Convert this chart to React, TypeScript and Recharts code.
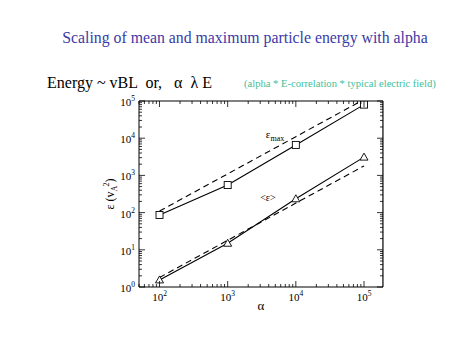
import { LineChart, Line, XAxis, YAxis, ReferenceDot, ReferenceLine } from "recharts"

const alpha = [1e2, 1e3, 1e4, 1e5]
const maxEnergy = [86, 550, 6600, 80000]
const maxFit = [110, 1100, 11000, 110000]
const meanEnergy = [1.55, 15, 235, 3100]
const meanFit = [1.8, 18, 180, 1800]

const xDecades = [10, 100, 1000, 10000, 100000]
const yDecades = [1, 10, 100, 1000, 10000]
const mantissas = [1, 2, 3, 4, 5, 6, 7, 8, 9]

const xDomain = [50, 190000]
const yDomain = [1, 100000]

const xTicks = xDecades
  .flatMap((d) => mantissas.map((m) => m * d))
  .filter((v) => v >= xDomain[0] && v <= xDomain[1])
const yTicks = [...yDecades.flatMap((d) => mantissas.map((m) => m * d)), 100000]

const data = alpha.map((a, i) => ({
  alpha: a,
  max: maxEnergy[i],
  maxFit: maxFit[i],
  mean: meanEnergy[i],
  meanFit: meanFit[i],
}))

const serif = "Liberation Serif, Times New Roman, serif"

const W = 474
const H = 355
const margin = { top: 100, right: 91, bottom: 38, left: 99 }

const exponent = (v: number) => Math.round(Math.log10(v))
const isMajor = (v: number) => Math.abs(Math.log10(v) - exponent(v)) < 1e-6

function BottomTick({ x, y, payload }: any) {
  const v = payload.value
  const major = isMajor(v)
  return (
    <g>
      <line x1={x} x2={x} y1={y} y2={y - (major ? 6 : 3)} stroke="#000" strokeWidth={0.8} />
      {major && (
        <text x={x} y={y + 14} textAnchor="middle" fontFamily={serif} fontSize={11} fill="#000">
          10
          <tspan dy={-5} fontSize={7.5}>
            {exponent(v)}
          </tspan>
        </text>
      )}
    </g>
  )
}

function TopTick({ x, y, payload }: any) {
  const major = isMajor(payload.value)
  return <line x1={x} x2={x} y1={y} y2={y + (major ? 6 : 3)} stroke="#000" strokeWidth={0.8} />
}

function LeftTick({ x, y, payload }: any) {
  const v = payload.value
  const major = isMajor(v)
  return (
    <g>
      <line x1={x} x2={x + (major ? 6 : 3)} y1={y} y2={y} stroke="#000" strokeWidth={0.8} />
      {major && (
        <text x={x - 4} y={y + 5} textAnchor="end" fontFamily={serif} fontSize={11} fill="#000">
          10
          <tspan dy={-5} fontSize={7.5}>
            {exponent(v)}
          </tspan>
        </text>
      )}
    </g>
  )
}

function Square({ cx, cy }: any) {
  return <rect x={cx - 3.5} y={cy - 3.5} width={7} height={7} fill="#fff" stroke="#000" strokeWidth={0.9} />
}

function Triangle({ cx, cy }: any) {
  return (
    <polygon
      points={`${cx},${cy - 4} ${cx - 4},${cy + 3} ${cx + 4},${cy + 3}`}
      fill="#fff"
      stroke="#000"
      strokeWidth={0.9}
    />
  )
}

export default function App() {
  return (
    <div style={{ position: "absolute", left: 0, top: 0, width: W, height: H, background: "#fff" }}>
      <div
        style={{
          position: "absolute",
          left: 0,
          width: 490,
          top: 30,
          textAlign: "center",
          fontFamily: serif,
          fontSize: 15.8,
          lineHeight: "16px",
          color: "#3a3aa6",
          whiteSpace: "nowrap",
        }}
      >
        Scaling of mean and maximum particle energy with alpha
      </div>
      <div
        style={{
          position: "absolute",
          left: 47,
          top: 74,
          fontFamily: serif,
          fontSize: 16,
          lineHeight: "17px",
          color: "#000",
          whiteSpace: "pre",
        }}
      >
        {"Energy ~ vBL  or,   \u03b1  \u03bb E"}
      </div>
      <div
        style={{
          position: "absolute",
          left: 244,
          top: 78,
          fontFamily: serif,
          fontSize: 10.6,
          lineHeight: "11px",
          color: "#3dbf9c",
          whiteSpace: "pre",
        }}
      >
        (alpha * E-correlation * typical electric field)
      </div>
      <LineChart width={W} height={H} data={data} margin={margin} style={{ position: "absolute", left: 0, top: 0 }}>
        <XAxis
          xAxisId="b"
          dataKey="alpha"
          type="number"
          scale="log"
          domain={xDomain}
          allowDataOverflow
          ticks={xTicks}
          interval={0}
          tickSize={0}
          tickMargin={0}
          height={30}
          axisLine={{ stroke: "#000", strokeWidth: 1 }}
          tick={BottomTick}
          label={{
            content: ({ viewBox }: any) => (
              <text
                x={viewBox.x + viewBox.width / 2}
                y={viewBox.y + 23}
                textAnchor="middle"
                fontFamily={serif}
                fontSize={13}
                fill="#000"
              >
                {"\u03b1"}
              </text>
            ),
          }}
        />
        <XAxis
          xAxisId="t"
          orientation="top"
          dataKey="alpha"
          type="number"
          scale="log"
          domain={xDomain}
          allowDataOverflow
          ticks={xTicks}
          interval={0}
          tickSize={0}
          tickMargin={0}
          height={1}
          axisLine={{ stroke: "#000", strokeWidth: 1 }}
          tick={TopTick}
        />
        <YAxis
          yAxisId="l"
          type="number"
          scale="log"
          domain={yDomain}
          allowDataOverflow
          ticks={yTicks}
          interval={0}
          tickSize={0}
          tickMargin={0}
          width={40}
          axisLine={{ stroke: "#000", strokeWidth: 1 }}
          tick={LeftTick}
          label={{
            content: ({ viewBox }: any) => {
              const cx = viewBox.x + 15
              const cy = viewBox.y + viewBox.height / 2
              return (
                <text
                  x={cx}
                  y={cy}
                  transform={`rotate(-90 ${cx} ${cy})`}
                  textAnchor="middle"
                  fontFamily={serif}
                  fontSize={12}
                  fill="#000"
                >
                  {"\u03b5 (v"}
                  <tspan dy={3} fontSize={8}>
                    A
                  </tspan>
                  <tspan dy={-8} dx={-1} fontSize={8}>
                    2
                  </tspan>
                  <tspan dy={5}>)</tspan>
                </text>
              )
            },
          }}
        />
        {/* right frame and its inward ticks */}
        <ReferenceLine
          xAxisId="b"
          yAxisId="l"
          x={xDomain[1] * 0.998}
          stroke="#000"
          strokeWidth={1.2}
          ifOverflow="visible"
        />
        {yTicks.map((v) => (
          <ReferenceLine
            key={v}
            xAxisId="b"
            yAxisId="l"
            segment={[
              { x: xDomain[1] / (isMajor(v) ? 1.225 : 1.107), y: v },
              { x: xDomain[1], y: v },
            ]}
            stroke="#000"
            strokeWidth={0.8}
            ifOverflow="visible"
          />
        ))}
        <Line
          xAxisId="b"
          yAxisId="l"
          dataKey="maxFit"
          stroke="#000"
          strokeWidth={1.1}
          strokeDasharray="6 4"
          dot={false}
          type="linear"
          isAnimationActive={false}
        />
        <Line
          xAxisId="b"
          yAxisId="l"
          dataKey="meanFit"
          stroke="#000"
          strokeWidth={1.1}
          strokeDasharray="6 4"
          dot={false}
          type="linear"
          isAnimationActive={false}
        />
        <Line
          xAxisId="b"
          yAxisId="l"
          dataKey="max"
          stroke="#000"
          strokeWidth={1.1}
          dot={<Square />}
          type="linear"
          isAnimationActive={false}
        />
        <Line
          xAxisId="b"
          yAxisId="l"
          dataKey="mean"
          stroke="#000"
          strokeWidth={1.1}
          dot={<Triangle />}
          type="linear"
          isAnimationActive={false}
        />
        <ReferenceDot
          xAxisId="b"
          yAxisId="l"
          x={4300}
          y={11000}
          r={0}
          fill="none"
          stroke="none"
          label={{
            content: ({ viewBox }: any) => (
              <text x={viewBox.x - 5} y={viewBox.y + 1} fontFamily={serif} fontSize={11} fill="#000">
                {"\u03b5"}
                <tspan dy={3} fontSize={8}>
                  max
                </tspan>
              </text>
            ),
          }}
        />
        <ReferenceDot
          xAxisId="b"
          yAxisId="l"
          x={3900}
          y={250}
          r={0}
          fill="none"
          stroke="none"
          label={{
            content: ({ viewBox }: any) => (
              <text x={viewBox.x} y={viewBox.y + 3} textAnchor="middle" fontFamily={serif} fontSize={10} fill="#000">
                {"<\u03b5>"}
              </text>
            ),
          }}
        />
      </LineChart>
    </div>
  )
}
